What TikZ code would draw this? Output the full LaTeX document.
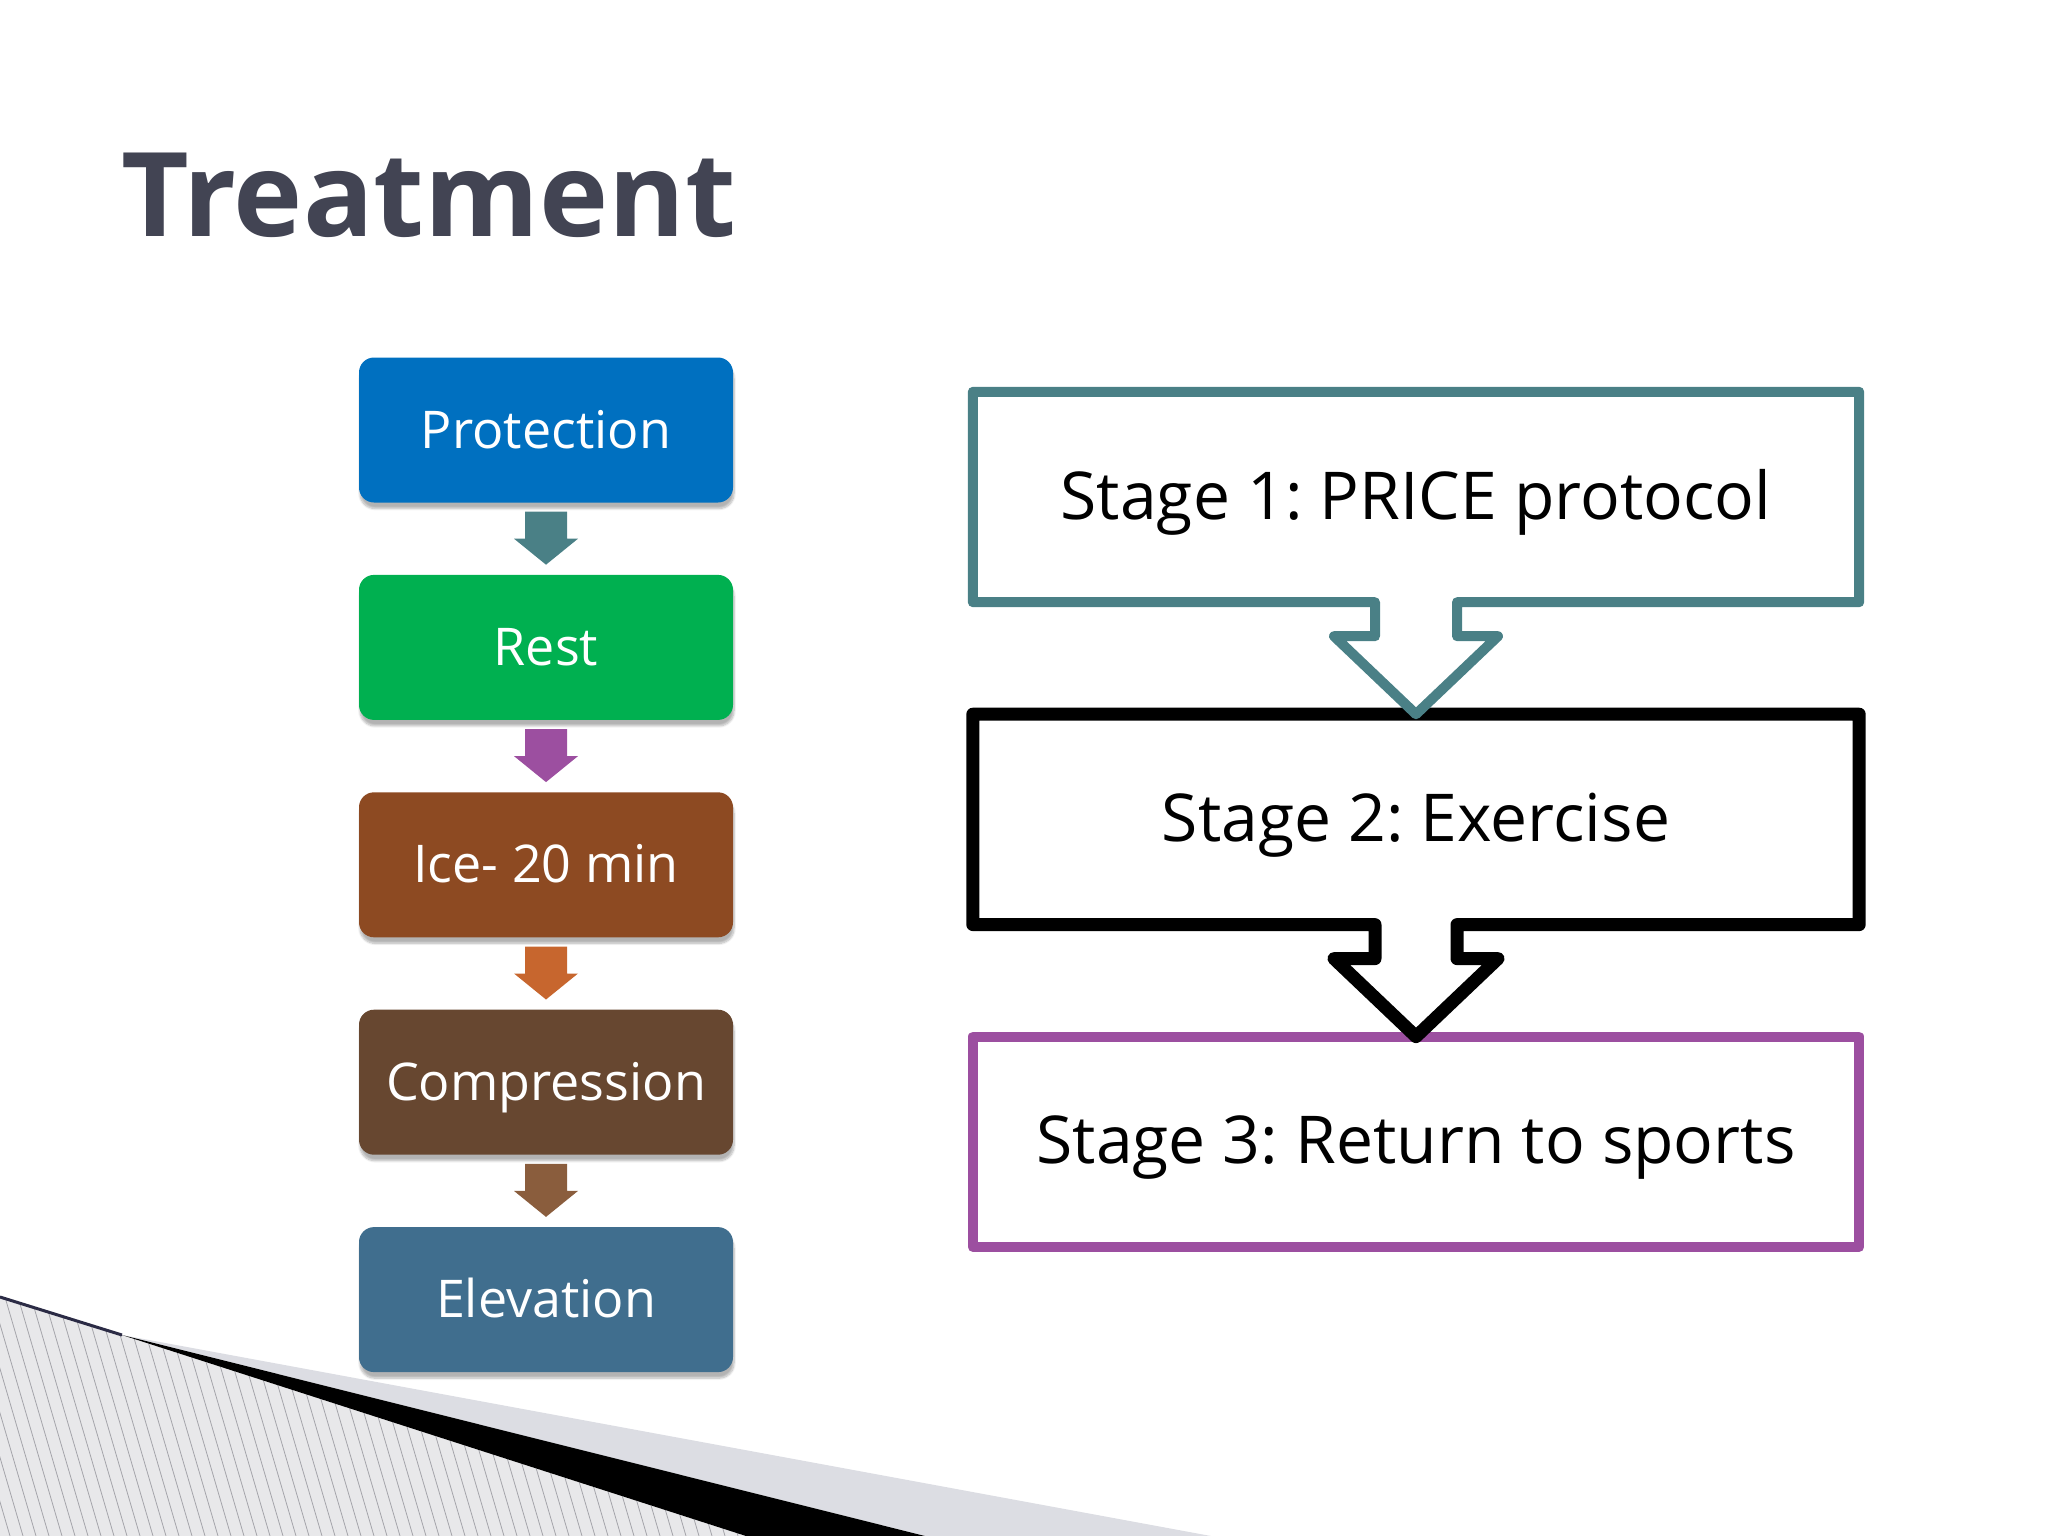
\documentclass[tikz,border=0pt]{standalone}
\usepackage{fontspec}
\setmainfont{Open Sans}
\usetikzlibrary{positioning, calc, shadows.blur}

\definecolor{titlegray}{HTML}{424453}
\definecolor{protblue}{HTML}{0070C0}
\definecolor{restgreen}{HTML}{00B050}
\definecolor{icebrown}{HTML}{8D4A22}
\definecolor{compbrown}{HTML}{674730}
\definecolor{elevblue}{HTML}{406E8E}
\definecolor{arrteal}{HTML}{4A8086}
\definecolor{arrpurple}{HTML}{9C4FA0}
\definecolor{arrorange}{HTML}{C7662E}
\definecolor{arrbrown}{HTML}{8A5D3D}
\definecolor{bandgray}{HTML}{DCDDE3}
\definecolor{stripebg}{HTML}{E8E8EA}
\definecolor{stripeline}{HTML}{A4A4AA}
\definecolor{edgenavy}{HTML}{2B2B45}

% block arrow between two boxes of the left column
\newcommand{\ricearrow}[3]{%
  \fill[#3] ([xshift=-21pt,yshift=-9pt]#1.south) -- ([xshift=21pt,yshift=-9pt]#1.south)
    -- ([xshift=21pt,yshift=-36pt]#1.south) -- ([xshift=32pt,yshift=-36pt]#1.south)
    -- ([yshift=10pt]#2.north) -- ([xshift=-32pt,yshift=-36pt]#1.south)
    -- ([xshift=-21pt,yshift=-36pt]#1.south) -- cycle;}

% outline of a stage box with its arrow down to the next stage
\newcommand{\stageoutline}[3]{%
  \draw[stageline, draw=#3] ([xshift=-41pt]#1.south) -- (#1.south west) -- (#1.north west)
    -- (#1.north east) -- (#1.south east) -- ([xshift=41pt]#1.south) -- ++(0,34) -- ++(41,0)
    -- (#2.north) -- ++(-82,-78) -- ++(41,0) -- cycle;}

\begin{document}
\frenchspacing
\begin{tikzpicture}[x=1pt, y=-1pt,
    ricebox/.style={rounded corners=15pt, minimum width=374pt, minimum height=145pt,
        inner sep=0pt, text=white, font=\fontsize{52}{62}\selectfont,
        text height=48pt, text depth=12pt,
        blur shadow={shadow xshift=1pt, shadow yshift=-6pt, shadow opacity=30, shadow blur steps=8}},
    stagebox/.style={minimum width=886pt, minimum height=210pt, inner sep=0pt,
        font=\fontsize{66}{80}\selectfont, text height=60pt, text depth=16pt},
    stageline/.style={line width=10pt, line join=round}]

    \useasboundingbox (0,0) rectangle (2048,1536);

    % Title
    \node[anchor=base west, inner sep=0pt, text=titlegray,
        font=\fontsize{117}{140}\selectfont\bfseries] (title) at (121,236) {Treatment};

    % Corner decoration
    \begin{scope}
        \clip (0,1297) -- (122,1335) -- (746,1536) -- (0,1536) -- cycle;
        \fill[stripebg] (0,1280) rectangle (760,1536);
        \foreach \i in {-10,...,60}{
            \draw[stripeline, line width=0.8pt] (\i*13,1280) -- ++(75,256);
        }
    \end{scope}
    \fill[bandgray] (122,1335) -- (1211,1536) -- (925,1536) -- cycle;
    \fill[black] (122,1335) -- (925,1536) -- (746,1536) -- cycle;
    \draw[edgenavy, line width=3pt] (0,1297) -- (122,1335);

    % PRICE column
    \node[ricebox, fill=protblue] (prot) at (546,430) {Protection};
    \node[ricebox, fill=restgreen, below=72pt of prot] (rest) {Rest};
    \node[ricebox, fill=icebrown, below=72pt of rest] (ice) {Ice- 20 min};
    \node[ricebox, fill=compbrown, below=72pt of ice] (comp) {Compression};
    \node[ricebox, fill=elevblue, below=72pt of comp] (elev) {Elevation};

    \ricearrow{prot}{rest}{arrteal}
    \ricearrow{rest}{ice}{arrpurple}
    \ricearrow{ice}{comp}{arrorange}
    \ricearrow{comp}{elev}{arrbrown}

    % Stages
    \node[stagebox] (st1) at (1416,497) {Stage 1: PRICE protocol};
    \node[stagebox, below=112pt of st1] (st2) {Stage 2: Exercise};
    \node[stagebox, below=112pt of st2] (st3) {Stage 3: Return to sports};

    \draw[stageline, draw=arrpurple] (st3.north west) rectangle (st3.south east);
    \stageoutline{st2}{st3}{black, line width=13pt}
    \stageoutline{st1}{st2}{arrteal}

\end{tikzpicture}
\end{document}
